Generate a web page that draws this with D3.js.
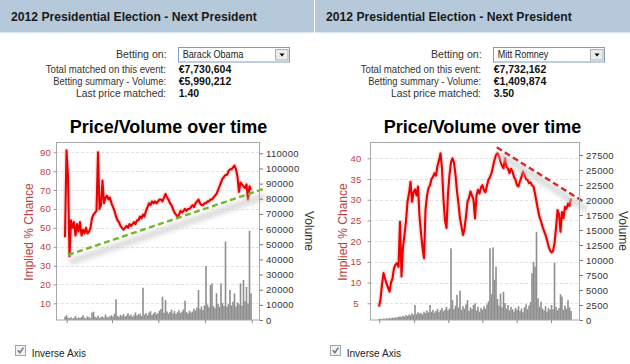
<!DOCTYPE html>
<html><head><meta charset="utf-8">
<script src="https://cdn.jsdelivr.net/npm/d3@7"></script>
<style>body{margin:0;background:#fff}svg{display:block}</style>
</head><body><svg id="c" width="630" height="364"></svg>
<script>
// ---------- data ----------
const headerTitle = "2012 Presidential Election - Next President";
const chartTitle = "Price/Volume over time";
const bettingLabel = "Betting on:";
const infoLabels = ["Total matched on this event:", "Betting summary - Volume:", "Last price matched:"];
const candidates = ["Barack Obama", "Mitt Romney"];
const obamaInfo = ["€7,730,604", "€5,990,212", "1.40"];
const romneyInfo = ["€7,732,162", "€1,409,874", "3.50"];
const priceAxisLabel = "Implied % Chance";
const volumeAxisLabel = "Volume";
const checkboxLabel = "Inverse Axis";

const obamaPrice = [45,91,77,35,54,50,53,46,52,48,
  53,46,49,47,50,47,48,50,55,57,
  58,59,90,60,62,75,63,66,67,65,
  66,63,61,59,56,54,53,51,50,49,
  50,51,50,52,51,52,53,52,54,54,
  56,55,57,56,59,61,63,62,64,63,
  64,63,64,65,65,64,66,68,66,65,
  63,62,60,58,57,56,57,59,58,59,
  60,59,60,60,61,62,61,63,64,65,
  63,62,62,63,63,64,64,65,65,66,
  67,68,70,72,74,76,77,78,78,80,
  81,81,82,83,81,77,69,74,73,72,
  71,73,65,72,70];
const obamaVolume = [2200,3100,1500,1200,1800,900,1400,2600,1100,1700,
  1300,2000,3200,1500,1000,2400,1800,1200,4800,5500,
  2100,1600,2900,1300,1900,2300,1500,3600,2000,1700,
  2500,3100,2200,4100,13700,2800,1900,3400,2600,3900,
  2300,3000,4400,2700,3600,2100,3200,5000,2900,3800,
  4200,2600,21300,3500,4600,3100,4900,5800,3300,4300,
  5200,3800,4500,6100,7200,15400,4800,13200,5600,4100,
  5300,6800,4400,5900,3900,5100,6300,4600,5500,7000,
  12700,5200,4300,6100,4900,5600,7400,6200,8300,19800,
  7100,8900,6500,9600,35600,10200,8400,23100,24200,9100,
  7800,17600,10500,8600,24200,11300,9200,51700,8800,10400,
  19800,9700,12100,17600,8900,11600,10300,24200,9500,26400,
  12400,21900,10800,58900,17600];
const romneyPrice = [4.2,6,9.5,12.3,11,9.8,8.8,7.8,10,11,
  13.5,14.3,14.7,13.8,24.7,11.5,18.6,21.5,24.8,29.5,
  31.5,34.3,29.5,31.8,32.5,31,33.2,26,22,18.5,
  15.9,27.5,31,32.8,33.5,35,35.5,36.4,35.8,38.2,
  39.5,41.2,37.5,30,25,23.2,31.5,36,39,40,
  39,36,32,29,25.5,23.5,21.5,23,26,29.5,
  30.5,32,31,30,25.5,31,32.4,31.5,33,33.5,
  32.2,31.8,33.5,34.8,35.5,36.4,38,39.6,40.8,41.2,
  40.5,39.2,38.2,37.6,40,38,37.5,36.4,37.5,36.8,
  35.5,34.8,33.5,33.2,34.5,35.5,36.8,36,35,34.8,
  34,34.2,33.5,33.2,31.5,29.5,27.5,25.8,24.8,23.5,
  22.5,21.5,20.3,18.8,17.8,17.3,17.6,19.5,23,27.5,
  26.5,22.3,27,25.5,28.3,27.8,29.1,28.5,30.3];
const romneyVolume = [150,200,120,250,180,300,220,350,260,400,
  320,450,380,520,600,480,700,550,820,650,
  900,760,1100,850,2500,950,1300,1050,1200,900,
  1400,1150,1600,1250,2500,1350,1700,1200,1500,1850,
  1300,1650,2000,1450,1750,2200,1600,1900,11950,3300,
  1800,2400,4170,2100,4900,1700,2300,1900,2600,3300,
  1500,2100,1800,2500,2780,1600,2200,1400,2000,1700,
  2300,1900,2600,3100,11950,4300,12100,6700,8900,3500,
  2400,4400,2100,4700,2800,1900,2500,1600,2200,1800,
  1400,2000,1700,2300,1500,1900,1300,2100,2600,1800,
  2400,3000,7800,9700,8900,14700,3600,2200,3050,1900,
  1600,2300,1400,2000,1700,2500,1800,9560,2200,1600,
  2000,4300,3900,1700,2400,1900,3300,2100,1500];

const obamaPriceTicks = [10,20,30,40,50,60,70,80,90];
const obamaVolumeTicks = [0,10000,20000,30000,40000,50000,60000,70000,80000,90000,100000,110000];
const romneyPriceTicks = [5,10,15,20,25,30,35,40];
const romneyVolumeTicks = [0,2500,5000,7500,10000,12500,15000,17500,20000,22500,25000,27500];
const obamaXTicks = [1.1,31.3,62.2,93.3,124.5];
const romneyXTicks = [0.2,23.3,46.2,68.9,91.8,114.7];
const obamaTrend = [[2,35.6],[132,70.5]];
const romneyTrend = [[78.5,42.65],[137.3,29.3]];

// ---------- drawing ----------
const FONT = "'Liberation Sans', Arial, sans-serif";
const svg = d3.select("#c");
svg.append("rect").attr("width",630).attr("height",364).attr("fill","#fff");
const defs = svg.append("defs");
defs.append("filter").attr("id","blur").attr("x","-20%").attr("y","-50%").attr("width","140%").attr("height","200%")
  .append("feGaussianBlur").attr("stdDeviation",2.2);

const panels = [
  {ox:0, cand:candidates[0], info:obamaInfo, price:obamaPrice, vol:obamaVolume,
   pTicks:obamaPriceTicks, vTicks:obamaVolumeTicks, xTicks:obamaXTicks, trend:obamaTrend,
   trendColor:"#72b62e", xDom:[-6,130], xRange:[56,260], pDom:[0,90], pRange:[322.2,152.3],
   vDom:[0,110000], vRange:[320,153.3], pLabelX:45, yLabX:29, volLabX:309, titleX:168.5, candW:60.6},
  {ox:315, cand:candidates[1], info:romneyInfo, price:romneyPrice, vol:romneyVolume,
   pTicks:romneyPriceTicks, vTicks:romneyVolumeTicks, xTicks:romneyXTicks, trend:romneyTrend,
   trendColor:"#d42a2a", xDom:[-6,134], xRange:[55,265], pDom:[0,40], pRange:[324,158.3],
   vDom:[0,27500], vRange:[320,155], pLabelX:40.5, yLabX:28, volLabX:308, titleX:167.5, candW:50.7}
];
const labelWidths = [120.3,112.7,90];

panels.forEach((p,pi)=>{
  const g = svg.append("g").attr("transform",`translate(${p.ox},0)`);
  // header
  g.append("rect").attr("x",0).attr("y",0).attr("width",pi===0?314:315).attr("height",32.5).attr("fill","#b5c9db");
  g.append("text").attr("x",11).attr("y",20.7).attr("font-family",FONT).attr("font-weight","bold")
    .attr("font-size",12.5).attr("fill","#1a1a1a").attr("textLength",245.7).attr("lengthAdjust","spacingAndGlyphs").text(headerTitle);
  // betting on
  g.append("text").attr("x",166.7).attr("y",57.8).attr("text-anchor","end").attr("font-family",FONT)
    .attr("font-size",10.5).attr("fill","#333").attr("textLength",50.7).attr("lengthAdjust","spacingAndGlyphs").text(bettingLabel);
  g.append("rect").attr("x",178.5).attr("y",47.5).attr("width",111).attr("height",14.5).attr("fill","#fff").attr("stroke","#7f9db9");
  g.append("text").attr("x",182.7).attr("y",58.2).attr("font-family",FONT).attr("font-size",10.5).attr("fill","#222")
    .attr("textLength",p.candW).attr("lengthAdjust","spacingAndGlyphs").text(p.cand);
  g.append("rect").attr("x",275.5).attr("y",49.5).attr("width",12.5).attr("height",10.5).attr("fill","#ececec").attr("stroke","#b0b0b0");
  g.append("path").attr("d","M279.5,53.5 L284.5,53.5 L282,56.5 Z").attr("fill","#000");
  infoLabels.forEach((lab,k)=>{
    const yb = [72.8,85,97.2][k];
    g.append("text").attr("x",166).attr("y",yb).attr("text-anchor","end").attr("font-family",FONT)
      .attr("font-size",10.5).attr("fill","#333").attr("textLength",labelWidths[k]).attr("lengthAdjust","spacingAndGlyphs").text(lab);
    g.append("text").attr("x",178.7).attr("y",yb).attr("font-family",FONT).attr("font-weight","bold")
      .attr("font-size",10.5).attr("fill","#111").text(p.info[k]);
  });
  // chart title
  g.append("text").attr("x",p.titleX).attr("y",132.5).attr("text-anchor","middle").attr("font-family",FONT)
    .attr("font-weight","bold").attr("font-size",18).attr("fill","#000").text(chartTitle);

  const x = d3.scaleLinear().domain(p.xDom).range(p.xRange);
  const yP = d3.scaleLinear().domain(p.pDom).range(p.pRange);
  const yV = d3.scaleLinear().domain(p.vDom).range(p.vRange);
  const L = p.xRange[0], R = p.xRange[1], T = 142.5, B = 320;

  const cid = "clip"+pi;
  defs.append("clipPath").attr("id",cid).append("rect").attr("x",L).attr("y",T).attr("width",R-L).attr("height",B-T);

  // gridlines
  g.append("g").selectAll("line").data(p.pTicks).join("line")
    .attr("x1",L).attr("x2",R).attr("y1",d=>Math.round(yP(d))+0.5).attr("y2",d=>Math.round(yP(d))+0.5)
    .attr("stroke","#e2e2e2").attr("stroke-dasharray","3,2");

  const plot = g.append("g").attr("clip-path",`url(#${cid})`);
  // volume bars
  plot.append("g").selectAll("rect").data(p.vol).join("rect")
    .attr("x",(d,i)=>x(i)-0.8).attr("width",1.6)
    .attr("y",d=>yV(d)).attr("height",d=>B-yV(d)).attr("fill","#8e8e8e");
  // price line halo + line
  const line = d3.line().x((d,i)=>x(i)).y(d=>yP(d));
  plot.append("path").datum(p.price).attr("d",line).attr("fill","none").attr("stroke","#e8b8b8")
    .attr("stroke-width",5).attr("opacity",0.4).attr("stroke-linejoin","round");
  plot.append("path").datum(p.price).attr("d",line).attr("fill","none").attr("stroke","#ee0000")
    .attr("stroke-width",2.1).attr("stroke-linejoin","round");

  // trend line with shadow
  const tl = d3.line().x(d=>x(d[0])).y(d=>yP(d[1]));
  g.append("path").datum(p.trend).attr("d",tl).attr("transform","translate(2,7)").attr("fill","none")
    .attr("stroke","#c8c8c8").attr("stroke-width",7).attr("opacity",0.6).attr("filter","url(#blur)");
  g.append("path").datum(p.trend).attr("d",tl).attr("fill","none").attr("stroke",p.trendColor)
    .attr("stroke-width",2.4).attr("stroke-dasharray","6,3.5");

  // frame
  g.append("rect").attr("x",L+0.5).attr("y",T).attr("width",R-L-1).attr("height",B-T).attr("fill","none").attr("stroke","#a8a8a8");

  // axes
  const ax = g.append("g").attr("transform",`translate(${L+0.5},0)`)
    .call(d3.axisLeft(yP).tickValues(p.pTicks).tickSize(3).tickPadding(4));
  ax.select(".domain").remove();
  ax.selectAll("line").attr("stroke","#999");
  ax.selectAll("text").attr("text-anchor","middle").attr("x",p.pLabelX-L).attr("font-family",FONT)
    .attr("font-size",9.5).attr("fill","#c04040").attr("letter-spacing",0.3);

  const axR = g.append("g").attr("transform",`translate(${R-0.5},0)`)
    .call(d3.axisRight(yV).tickValues(p.vTicks).tickSize(3.5).tickPadding(3).tickFormat(d3.format("d")));
  axR.select(".domain").remove();
  axR.selectAll("line").attr("stroke","#777");
  axR.selectAll("text").attr("font-family",FONT).attr("font-size",9.5).attr("fill","#333").attr("letter-spacing",0.3);

  const axB = g.append("g").attr("transform",`translate(0,${B})`)
    .call(d3.axisBottom(x).tickValues(p.xTicks).tickSize(3).tickFormat(""));
  axB.select(".domain").remove();
  axB.selectAll("line").attr("stroke","#888");

  // axis titles
  g.append("text").attr("transform",`translate(${p.yLabX},232) rotate(-90)`).attr("text-anchor","middle")
    .attr("dominant-baseline","central").attr("font-family",FONT).attr("font-size",12).attr("fill","#c04040").text(priceAxisLabel);
  g.append("text").attr("transform",`translate(${p.volLabX},231) rotate(90)`).attr("text-anchor","middle")
    .attr("dominant-baseline","central").attr("font-family",FONT).attr("font-size",12).attr("fill","#333").text(volumeAxisLabel);

  // checkbox
  g.append("rect").attr("x",15.5).attr("y",345.5).attr("width",10).attr("height",10).attr("fill","#f2f2f2").attr("stroke","#9aa6b4");
  g.append("path").attr("d","M17.8,350.2 L19.8,352.6 L23.4,347.6").attr("fill","none").attr("stroke","#6c7c98").attr("stroke-width",1.6);
  g.append("text").attr("x",31.7).attr("y",357).attr("font-family",FONT).attr("font-size",10.5).attr("fill","#222")
    .attr("textLength",54.3).attr("lengthAdjust","spacingAndGlyphs").text(checkboxLabel);
});
</script></body></html>
